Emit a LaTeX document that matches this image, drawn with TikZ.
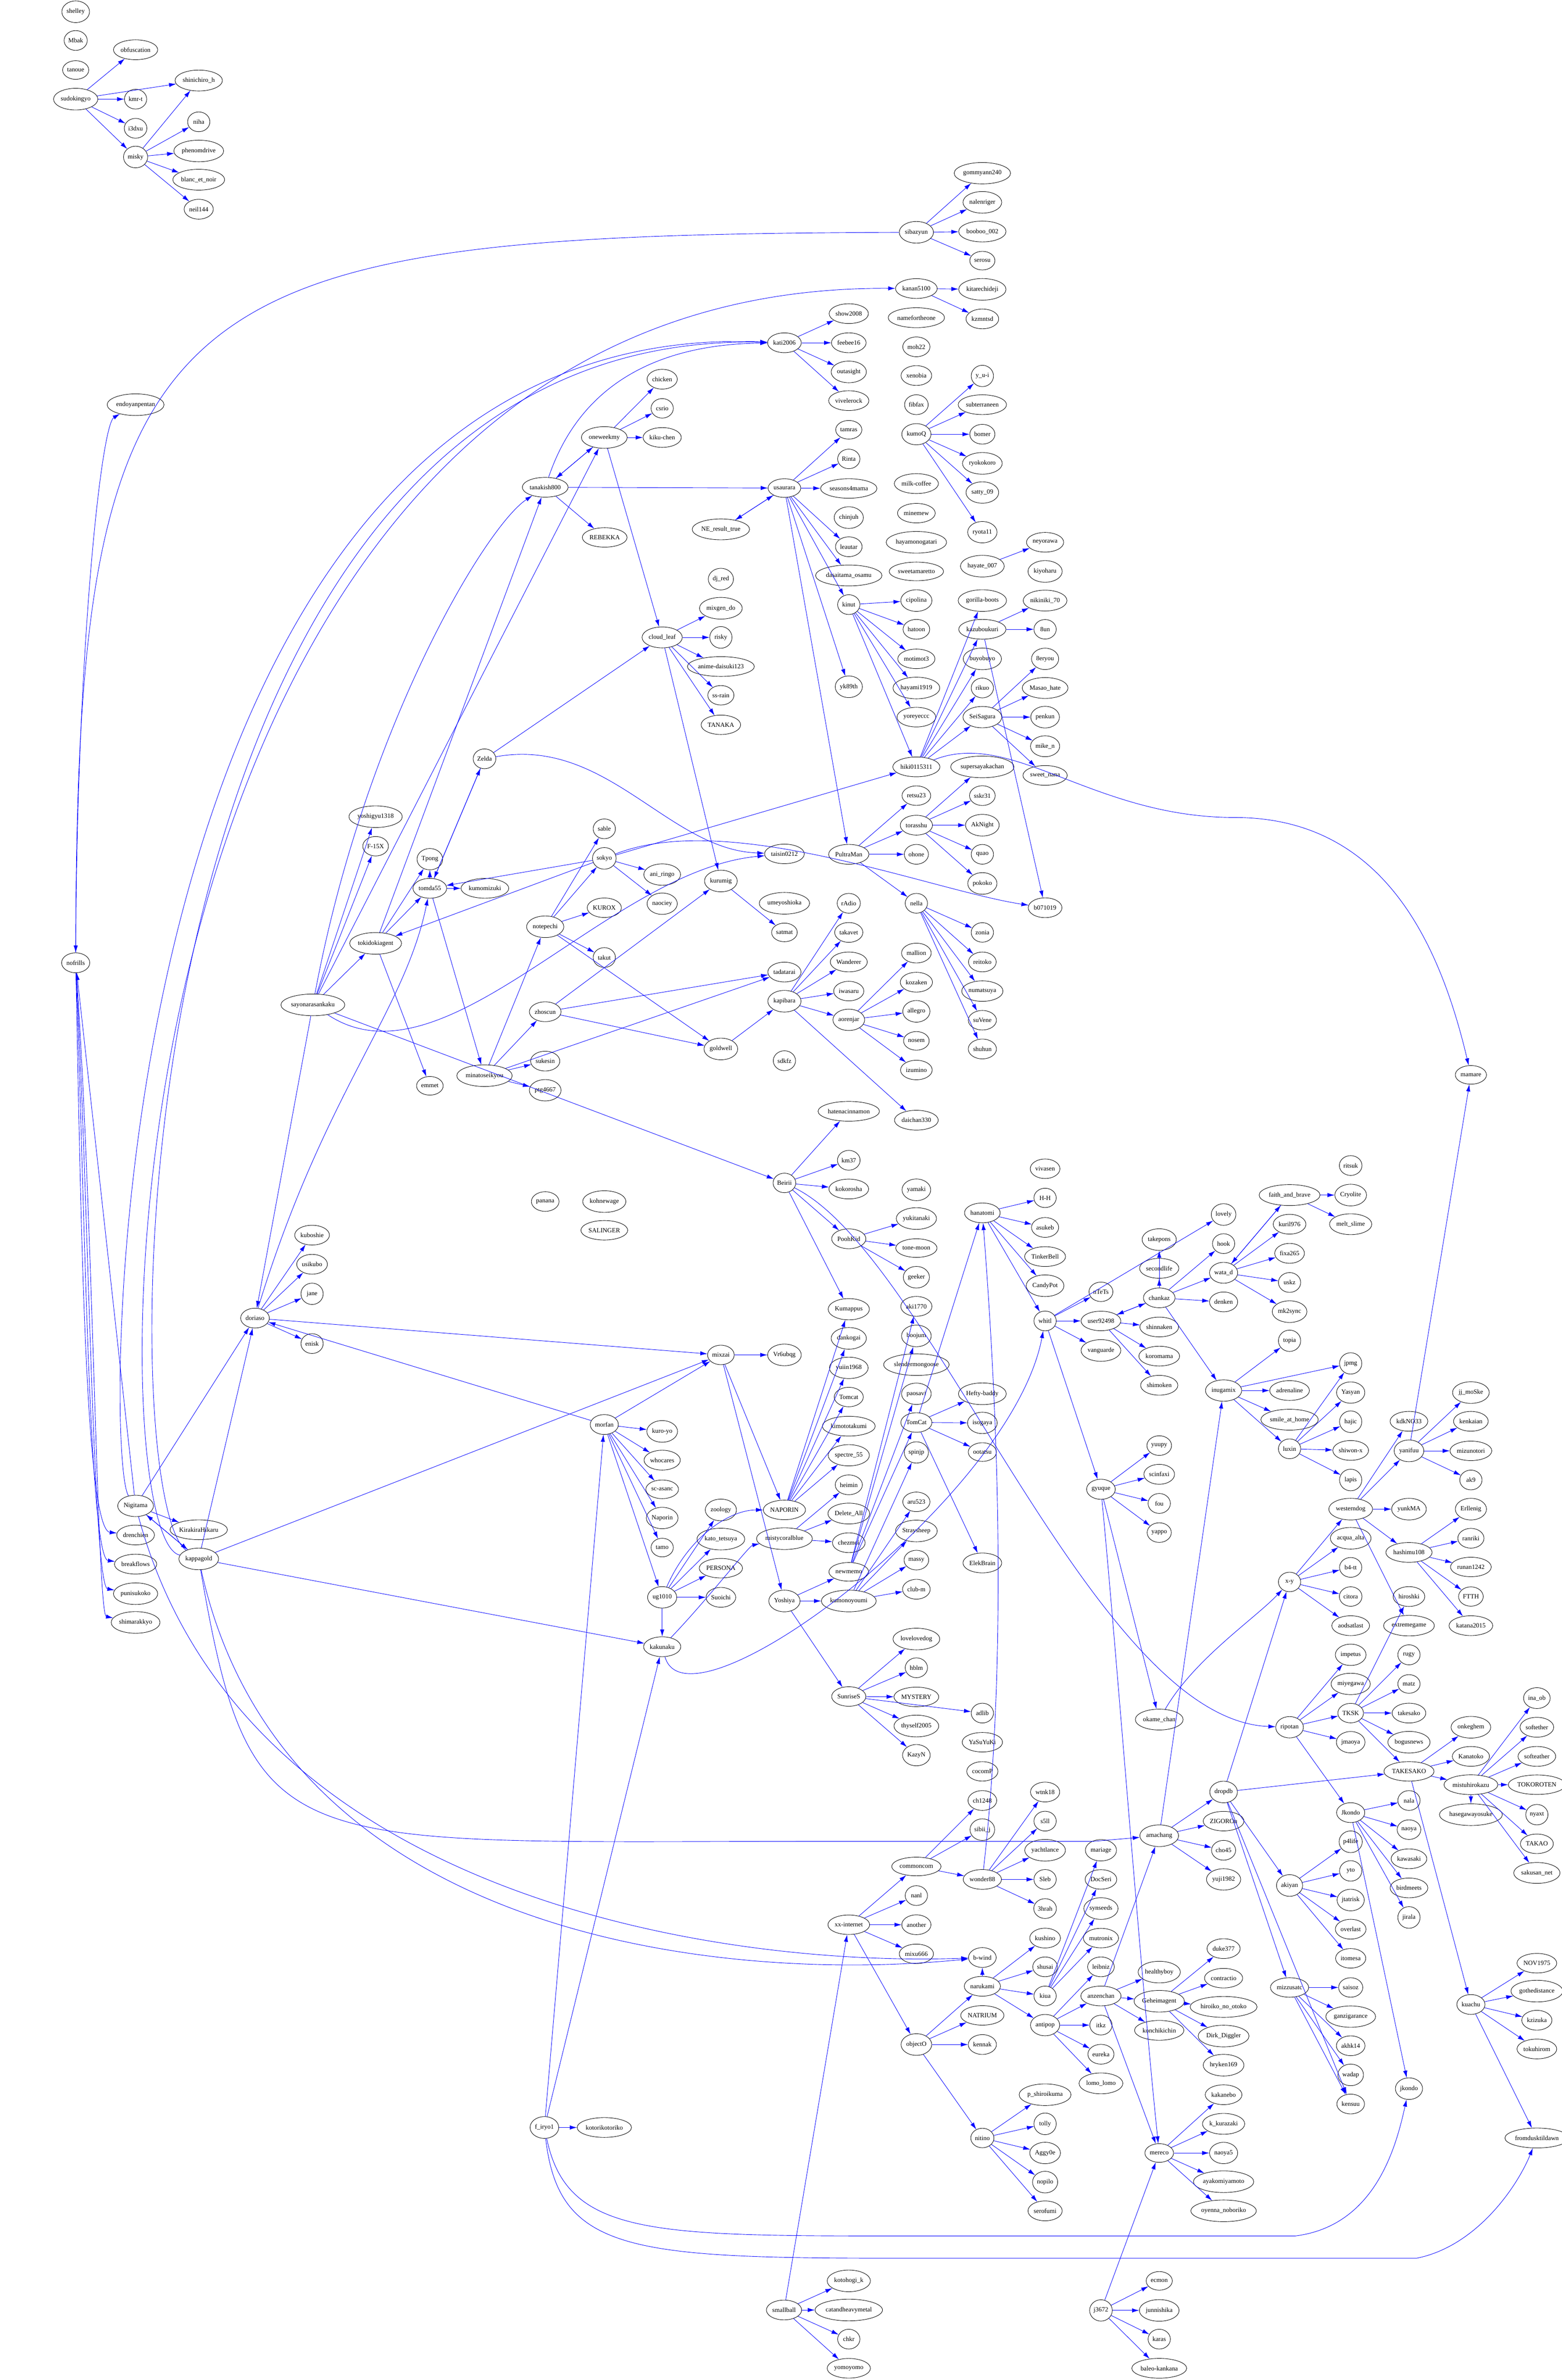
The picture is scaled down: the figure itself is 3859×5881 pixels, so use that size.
\documentclass[tikz,border=0pt]{standalone}
\usepackage{fontspec}
\setmainfont{Liberation Serif}
\usetikzlibrary{shapes.geometric,arrows.meta}
\newcommand\nd[4]{\node[u] (#1) at (#2,#3) {#4};}
\newcommand\myfan[2]{\foreach \t in {#2} {\draw[e] (#1) -- (\t);}}
\begin{document}
\begin{tikzpicture}[x=0.01cm,y=-0.01cm,
 u/.style={ellipse,draw,line width=0.3pt,minimum width=0.55cm,minimum height=0.46cm,inner xsep=0.5pt,font=\fontsize{4.5}{5}\selectfont},
 e/.style={blue,line width=0.3pt,-{Latex[length=5pt,width=3pt]}}]
\useasboundingbox (0,0) rectangle (3859,5881);
% column ~187-500
\nd{shelley}{187}{29}{shelley}
\nd{Mbak}{187}{100}{Mbak}
\nd{tanoue}{187}{173}{tanoue}
\nd{sudokingyo}{187}{245}{sudokingyo}
\nd{obfuscation}{335}{123}{obfuscation}
\nd{shinichiro}{491}{199}{shinichiro\_h}
\nd{kmrt}{335}{245}{kmr-t}
\nd{idxu}{335}{317}{i3dxu}
\nd{misky}{335}{388}{misky}
\nd{niha}{491}{301}{niha}
\nd{phenomdrive}{491}{373}{phenomdrive}
\nd{blanc}{491}{444}{blanc\_et\_noir}
\nd{neil}{491}{517}{neil144}
\nd{endoyan}{335}{1000}{endoyanpentan}
\nd{nofrills}{187}{2379}{nofrills}
\nd{Nigitama}{335}{3721}{Nigitama}
\nd{drenchien}{335}{3793}{drenchien}
\nd{breakflows}{335}{3865}{breakflows}
\nd{punisukoko}{335}{3938}{punisukoko}
\nd{shimarakkyo}{335}{4009}{shimarakkyo}
\nd{Kirakira}{491}{3780}{KirakiraHikaru}
\nd{kappagold}{491}{3852}{kappagold}
\nd{doriaso}{630}{3257}{doriaso}
\nd{kuboshie}{771}{3052}{kuboshie}
\nd{usikubo}{771}{3124}{usikubo}
\nd{jane}{771}{3197}{jane}
\nd{enisk}{771}{3320}{enisk}
\nd{sayonara}{773}{2483}{sayonarasankaku}
\nd{yoshigyu}{928}{2018}{yoshigyu1318}
\nd{Ffifteen}{928}{2091}{F-15X}
\nd{tokidoki}{928}{2331}{tokidokiagent}
\nd{Tpong}{1062}{2123}{Tpong}
\nd{tomda}{1062}{2195}{tomda55}
\nd{emmet}{1062}{2683}{emmet}
\nd{kumomizuki}{1198}{2195}{kumomizuki}
\nd{Zelda}{1197}{1875}{Zelda}
\nd{minato}{1197}{2658}{minatoseikyou}
\nd{tanakish}{1347}{1204}{tanakish800}
\nd{oneweekmy}{1493}{1081}{oneweekmy}
\nd{REBEKKA}{1494}{1328}{REBEKKA}
\nd{chicken}{1636}{937}{chicken}
\nd{csrio}{1636}{1009}{csrio}
\nd{kikuchen}{1636}{1081}{kiku-chen}
\nd{NEresult}{1781}{1308}{NE\_result\_true}
\nd{djred}{1781}{1431}{dj\_red}
\nd{cloudleaf}{1636}{1575}{cloud\_leaf}
\nd{mixgen}{1781}{1503}{mixgen\_do}
\nd{risky}{1781}{1575}{risky}
\nd{anime}{1781}{1647}{anime-daisuki123}
\nd{ssrain}{1781}{1718}{ss-rain}
\nd{TANAKA}{1781}{1791}{TANAKA}
\nd{sable}{1493}{2048}{sable}
\nd{sokyo}{1493}{2121}{sokyo}
\nd{aniringo}{1636}{2161}{ani\_ringo}
\nd{naociey}{1636}{2233}{naociey}
\nd{KUROX}{1493}{2243}{KUROX}
\nd{notepechi}{1347}{2290}{notepechi}
\nd{takut}{1493}{2366}{takut}
\nd{zhoscun}{1347}{2500}{zhoscun}
\nd{sukesin}{1347}{2622}{sukesin}
\nd{ptg}{1347}{2694}{ptg4667}
\nd{kurumig}{1781}{2177}{kurumig}
\nd{goldwell}{1781}{2592}{goldwell}
\nd{panana}{1347}{2969}{panana}
\nd{kohnewage}{1493}{2969}{kohnewage}
\nd{SALINGER}{1493}{3040}{SALINGER}
\nd{mixzai}{1781}{3348}{mixzai}
\nd{morfan}{1493}{3520}{morfan}
\nd{kuroyo}{1636}{3537}{kuro-yo}
\nd{whocares}{1636}{3608}{whocares}
\nd{scasanc}{1636}{3680}{sc-asanc}
\nd{Naporin}{1636}{3751}{Naporin}
\nd{tamo}{1636}{3824}{tamo}
\nd{ug}{1636}{3947}{ug1010}
\nd{zoology}{1781}{3731}{zoology}
\nd{kato}{1781}{3803}{kato\_tetsuya}
\nd{PERSONA}{1781}{3875}{PERSONA}
\nd{Suoichi}{1781}{3947}{Suoichi}
\nd{kakunaku}{1636}{4069}{kakunaku}
\nd{firyo}{1345}{5257}{f\_iryo1}
\nd{kotori}{1493}{5257}{kotorikotoriko}
\nd{smallball}{1937}{5708}{smallball}
\nd{kotohogi}{2097}{5636}{kotohogi\_k}
\nd{catand}{2097}{5708}{catandheavymetal}
\nd{chkr}{2097}{5780}{chkr}
\nd{yomoyomo}{2097}{5852}{yomoyomo}
% column 1938
\nd{kati}{1938}{847}{kati2006}
\nd{usaurara}{1938}{1206}{usaurara}
\nd{taisin}{1938}{2110}{taisin0212}
\nd{umeyoshioka}{1938}{2232}{umeyoshioka}
\nd{satmat}{1938}{2304}{satmat}
\nd{tadatarai}{1938}{2402}{tadatarai}
\nd{kapibara}{1938}{2474}{kapibara}
\nd{sdkfz}{1938}{2621}{sdkfz}
\nd{Beirii}{1938}{2923}{Beirii}
\nd{Vr}{1938}{3348}{Vr6ubqg}
\nd{NAPORIN}{1938}{3731}{NAPORIN}
\nd{misty}{1938}{3802}{mistycoralblue}
\nd{Yoshiya}{1938}{3956}{Yoshiya}
% column 2097
\nd{show}{2097}{775}{show2008}
\nd{feebee}{2097}{847}{feebee16}
\nd{outasight}{2097}{919}{outasight}
\nd{vivelerock}{2097}{990}{vivelerock}
\nd{tamras}{2097}{1062}{tamras}
\nd{Rinta}{2097}{1134}{Rinta}
\nd{seasons}{2097}{1207}{seasons4mama}
\nd{chinjuh}{2097}{1279}{chinjuh}
\nd{leautar}{2097}{1351}{leautar}
\nd{dasaitama}{2097}{1422}{dasaitama\_osamu}
\nd{kinut}{2097}{1494}{kinut}
\nd{yk}{2097}{1697}{yk89th}
\nd{PultraMan}{2097}{2111}{PultraMan}
\nd{rAdio}{2097}{2232}{rAdio}
\nd{takavet}{2097}{2304}{takavet}
\nd{Wanderer}{2097}{2377}{Wanderer}
\nd{iwasaru}{2097}{2449}{iwasaru}
\nd{aorenjar}{2097}{2520}{aorenjar}
\nd{hatena}{2097}{2746}{hatenacinnamon}
\nd{km}{2097}{2867}{km37}
\nd{kokorosha}{2097}{2938}{kokorosha}
\nd{PoohKid}{2097}{3061}{PoohKid}
\nd{Kumappus}{2097}{3235}{Kumappus}
\nd{dankogai}{2097}{3307}{dankogai}
\nd{yuiin}{2097}{3380}{yuiin1968}
\nd{Tomcat}{2097}{3452}{Tomcat}
\nd{kimoto}{2097}{3524}{kimototakumi}
\nd{spectre}{2097}{3596}{spectre\_55}
\nd{heimin}{2097}{3669}{heimin}
\nd{DeleteAll}{2097}{3740}{Delete\_All}
\nd{chezmoi}{2097}{3812}{chezmoi}
\nd{newmemo}{2097}{3884}{newmemo}
\nd{kumono}{2097}{3956}{kumonoyoumi}
\nd{SunriseS}{2097}{4192}{SunriseS}
\nd{xx}{2097}{4756}{xx-internet}
% column 2264
\nd{sibazyun}{2264}{574}{sibazyun}
\nd{kanan}{2264}{713}{kanan5100}
\nd{namefor}{2264}{785}{namefortheone}
\nd{moh}{2264}{857}{moh22}
\nd{xenobia}{2264}{928}{xenobia}
\nd{fibfax}{2264}{1000}{fibfax}
\nd{kumoQ}{2264}{1073}{kumoQ}
\nd{milk}{2264}{1195}{milk-coffee}
\nd{minemew}{2264}{1268}{minemew}
\nd{hayamono}{2264}{1340}{hayamonogatari}
\nd{sweetam}{2264}{1412}{sweetamaretto}
\nd{cipolina}{2264}{1484}{cipolina}
\nd{hatoon}{2264}{1555}{hatoon}
\nd{motimot}{2264}{1628}{motimot3}
\nd{hayami}{2264}{1700}{hayami1919}
\nd{yoreye}{2264}{1772}{yoreyeccc}
\nd{hiki}{2264}{1895}{hiki0115311}
\nd{retsu}{2264}{1966}{retsu23}
\nd{torasshu}{2264}{2039}{torasshu}
\nd{ohone}{2264}{2111}{ohone}
\nd{nella}{2264}{2232}{nella}
\nd{mallion}{2264}{2355}{mallion}
\nd{kozaken}{2264}{2427}{kozaken}
\nd{allegro}{2264}{2499}{allegro}
\nd{nosem}{2264}{2572}{nosem}
\nd{izumino}{2264}{2644}{izumino}
\nd{daichan}{2264}{2768}{daichan330}
\nd{yamaki}{2264}{2940}{yamaki}
\nd{yukitanaki}{2264}{3011}{yukitanaki}
\nd{tonemoon}{2264}{3084}{tone-moon}
\nd{geeker}{2264}{3156}{geeker}
\nd{aki}{2264}{3228}{aki1770}
\nd{boojum}{2264}{3301}{boojum}
\nd{slender}{2264}{3372}{slendermongoose}
\nd{paosavi}{2264}{3444}{paosavi}
\nd{TomCat}{2264}{3515}{TomCat}
\nd{spinjp}{2264}{3589}{spinjp}
\nd{aru}{2264}{3711}{aru523}
\nd{Straysheep}{2264}{3783}{Straysheep}
\nd{massy}{2264}{3855}{massy}
\nd{clubm}{2264}{3927}{club-m}
\nd{lovelove}{2264}{4050}{lovelovedog}
\nd{hblm}{2264}{4121}{hblm}
\nd{MYSTERY}{2264}{4193}{MYSTERY}
\nd{thyself}{2264}{4265}{thyself2005}
\nd{KazyN}{2264}{4337}{KazyN}
\nd{commoncom}{2264}{4612}{commoncom}
\nd{nanl}{2264}{4684}{nanl}
\nd{another}{2264}{4756}{another}
\nd{mixu}{2264}{4828}{mixu666}
\nd{objectO}{2264}{5052}{objectO}
% column 2427
\nd{gommyann}{2427}{428}{gommyann240}
\nd{nalenriger}{2427}{500}{nalenriger}
\nd{booboo}{2427}{572}{booboo\_002}
\nd{serosu}{2427}{644}{serosu}
\nd{kitare}{2427}{715}{kitarechideji}
\nd{kzmntsd}{2427}{788}{kzmntsd}
\nd{yui}{2427}{929}{y\_u-i}
\nd{subterr}{2427}{1000}{subterraneen}
\nd{bomer}{2427}{1073}{bomer}
\nd{ryokokoro}{2427}{1145}{ryokokoro}
\nd{satty}{2427}{1217}{satty\_09}
\nd{ryota}{2427}{1315}{ryota11}
\nd{hayate}{2427}{1399}{hayate\_007}
\nd{gorilla}{2427}{1484}{gorilla-boots}
\nd{kazubou}{2427}{1555}{kazuboukuri}
\nd{buyobuyo}{2427}{1628}{buyobuyo}
\nd{rikuo}{2427}{1700}{rikuo}
\nd{SeiSagura}{2427}{1772}{SeiSagura}
\nd{supersaya}{2427}{1895}{supersayakachan}
\nd{sskr}{2427}{1966}{sskr31}
\nd{AkNight}{2427}{2039}{AkNight}
\nd{quao}{2427}{2111}{quao}
\nd{pokoko}{2427}{2183}{pokoko}
\nd{zonia}{2427}{2304}{zonia}
\nd{reitoko}{2427}{2377}{reitoko}
\nd{numatsuya}{2427}{2449}{numatsuya}
\nd{suVene}{2427}{2521}{suVene}
\nd{shuhun}{2427}{2592}{shuhun}
\nd{hanatomi}{2427}{2997}{hanatomi}
\nd{Hefty}{2427}{3444}{Hefty-baddy}
\nd{isogaya}{2427}{3516}{isogaya}
\nd{ootatsu}{2427}{3588}{ootatsu}
\nd{ElekBrain}{2427}{3862}{ElekBrain}
\nd{adlib}{2427}{4233}{adlib}
\nd{YaSuYuKi}{2427}{4305}{YaSuYuKi}
\nd{cocomP}{2427}{4377}{cocomP}
\nd{ch}{2427}{4449}{ch1248}
\nd{sibii}{2427}{4521}{sibii\_j}
\nd{wonder}{2427}{4644}{wonder88}
\nd{bwind}{2427}{4837}{b-wind}
\nd{narukami}{2427}{4908}{narukami}
\nd{NATRIUM}{2427}{4980}{NATRIUM}
\nd{kennak}{2427}{5052}{kennak}
\nd{nitino}{2427}{5283}{nitino}
% column 2582
\nd{neyorawa}{2582}{1340}{neyorawa}
\nd{kiyoharu}{2582}{1412}{kiyoharu}
\nd{nikiniki}{2582}{1484}{nikiniki\_70}
\nd{eightun}{2582}{1555}{8un}
\nd{eightryou}{2582}{1628}{8eryou}
\nd{Masao}{2582}{1700}{Masao\_hate}
\nd{penkun}{2582}{1772}{penkun}
\nd{mike}{2582}{1844}{mike\_n}
\nd{sweetnana}{2582}{1916}{sweet\_nana}
\nd{bzero}{2582}{2243}{b071019}
\nd{vivasen}{2582}{2888}{vivasen}
\nd{HH}{2582}{2960}{H-H}
\nd{asukeb}{2582}{3033}{asukeb}
\nd{Tinker}{2582}{3105}{TinkerBell}
\nd{CandyPot}{2582}{3177}{CandyPot}
\nd{whitl}{2582}{3264}{whitl}
\nd{wtnk}{2582}{4428}{wtnk18}
\nd{sfll}{2582}{4500}{s5ll}
\nd{yacht}{2582}{4572}{yachtlance}
\nd{Sleb}{2582}{4644}{Sleb}
\nd{hrah}{2582}{4716}{3hrah}
\nd{kushino}{2582}{4789}{kushino}
\nd{shusai}{2582}{4860}{shusai}
\nd{kiua}{2582}{4932}{kiua}
\nd{antipop}{2582}{5004}{antipop}
\nd{pshiro}{2582}{5176}{p\_shiroikuma}
\nd{tolly}{2582}{5248}{tolly}
\nd{Aggy}{2582}{5320}{Aggy0e}
\nd{nopilo}{2582}{5392}{nopilo}
\nd{serofumi}{2582}{5463}{serofumi}
% column 2720
\nd{nTeTs}{2720}{3192}{nTeTs}
\nd{user}{2720}{3264}{user92498}
\nd{vanguarde}{2720}{3337}{vanguarde}
\nd{gyuque}{2720}{3680}{gyuque}
\nd{mariage}{2720}{4572}{mariage}
\nd{DocSeri}{2720}{4644}{DocSeri}
\nd{synseeds}{2720}{4716}{synseeds}
\nd{mutronix}{2720}{4789}{mutronix}
\nd{leibniz}{2720}{4860}{leibniz}
\nd{anzen}{2720}{4932}{anzenchan}
\nd{itkz}{2720}{5004}{itkz}
\nd{eureka}{2720}{5076}{eureka}
\nd{lomo}{2720}{5148}{lomo\_lomo}
\nd{jthree}{2720}{5709}{j3672}
% column 2864
\nd{takepons}{2864}{3063}{takepons}
\nd{secondlife}{2864}{3134}{secondlife}
\nd{chankaz}{2864}{3207}{chankaz}
\nd{shinnaken}{2864}{3279}{shinnaken}
\nd{koromama}{2864}{3351}{koromama}
\nd{shimoken}{2864}{3423}{shimoken}
\nd{yuupy}{2864}{3572}{yuupy}
\nd{scinfaxi}{2864}{3643}{scinfaxi}
\nd{fou}{2864}{3715}{fou}
\nd{yappo}{2864}{3787}{yappo}
\nd{okame}{2864}{4249}{okame\_chan}
\nd{amachang}{2864}{4536}{amachang}
\nd{healthy}{2864}{4873}{healthyboy}
\nd{Geheim}{2864}{4945}{Geheimagent}
\nd{konchi}{2864}{5017}{konchikichin}
\nd{mereco}{2864}{5320}{mereco}
\nd{ecmon}{2864}{5636}{ecmon}
\nd{junnishika}{2864}{5709}{junnishika}
\nd{karas}{2864}{5780}{karas}
\nd{baleo}{2864}{5852}{baleo-kankana}
% column 3023
\nd{lovely}{3023}{3001}{lovely}
\nd{hook}{3023}{3073}{hook}
\nd{wata}{3023}{3145}{wata\_d}
\nd{denken}{3023}{3217}{denken}
\nd{inugamix}{3023}{3436}{inugamix}
\nd{dropdb}{3023}{4428}{dropdb}
\nd{ZIGOROu}{3023}{4500}{ZIGOROu}
\nd{cho}{3023}{4572}{cho45}
\nd{yuji}{3023}{4644}{yuji1982}
\nd{duke}{3023}{4815}{duke377}
\nd{contractio}{3023}{4888}{contractio}
\nd{hiroiko}{3023}{4959}{hiroiko\_no\_otoko}
\nd{Dirk}{3023}{5031}{Dirk\_Diggler}
\nd{hryken}{3023}{5103}{hryken169}
\nd{kakanebo}{3023}{5176}{kakanebo}
\nd{kkura}{3023}{5248}{k\_kurazaki}
\nd{naoyafive}{3023}{5320}{naoya5}
\nd{ayako}{3023}{5391}{ayakomiyamoto}
\nd{oyenna}{3023}{5463}{oyenna\_noboriko}
% column 3186
\nd{faith}{3186}{2953}{faith\_and\_brave}
\nd{kuril}{3186}{3025}{kuril976}
\nd{fixa}{3186}{3097}{fixa265}
\nd{uskz}{3186}{3169}{uskz}
\nd{mktwo}{3186}{3241}{mk2sync}
\nd{topia}{3186}{3313}{topia}
\nd{adrenaline}{3186}{3436}{adrenaline}
\nd{smile}{3186}{3508}{smile\_at\_home}
\nd{luxin}{3186}{3580}{luxin}
\nd{xy}{3186}{3909}{x-y}
\nd{ripotan}{3186}{4268}{ripotan}
\nd{akiyan}{3186}{4659}{akiyan}
\nd{mizzu}{3186}{4911}{mizzusatc}
% column 3337
\nd{ritsuk}{3337}{2880}{ritsuk}
\nd{Cryolite}{3337}{2953}{Cryolite}
\nd{melt}{3337}{3025}{melt\_slime}
\nd{jpmg}{3337}{3369}{jpmg}
\nd{Yasyan}{3337}{3441}{Yasyan}
\nd{hajic}{3337}{3513}{hajic}
\nd{shiwon}{3337}{3584}{shiwon-x}
\nd{lapis}{3337}{3657}{lapis}
\nd{westerndog}{3337}{3729}{westerndog}
\nd{acqua}{3337}{3801}{acqua\_alta}
\nd{bfour}{3337}{3873}{b4-tt}
\nd{citora}{3337}{3945}{citora}
\nd{aodsat}{3337}{4017}{aodsatlast}
\nd{impetus}{3337}{4089}{impetus}
\nd{miyegawa}{3337}{4161}{miyegawa}
\nd{TKSK}{3337}{4233}{TKSK}
\nd{jmaoya}{3337}{4305}{jmaoya}
\nd{Jkondo}{3337}{4479}{Jkondo}
\nd{pfour}{3337}{4551}{p4life}
\nd{yto}{3337}{4623}{yto}
\nd{jtat}{3337}{4695}{jtatrisk}
\nd{overlast}{3337}{4767}{overlast}
\nd{itomesa}{3337}{4839}{itomesa}
\nd{saisoz}{3337}{4911}{saisoz}
\nd{ganzi}{3337}{4983}{ganzigarance}
\nd{akhk}{3337}{5055}{akhk14}
\nd{wadap}{3337}{5127}{wadap}
\nd{kensuu}{3337}{5199}{kensuu}
% column 3481
\nd{kdk}{3481}{3512}{kdkNO33}
\nd{yanifuu}{3481}{3585}{yanifuu}
\nd{yunkMA}{3481}{3729}{yunkMA}
\nd{hashimu}{3481}{3836}{hashimu108}
\nd{hiroshki}{3481}{3945}{hiroshki}
\nd{extreme}{3481}{4017}{extremegame}
\nd{rugy}{3481}{4089}{rugy}
\nd{matz}{3481}{4161}{matz}
\nd{takesako}{3481}{4233}{takesako}
\nd{bogus}{3481}{4305}{bogusnews}
\nd{TAKESAKO}{3481}{4377}{TAKESAKO}
\nd{nala}{3481}{4449}{nala}
\nd{naoya}{3481}{4521}{naoya}
\nd{kawasaki}{3481}{4593}{kawasaki}
\nd{birdmeets}{3481}{4665}{birdmeets}
\nd{jirala}{3481}{4738}{jirala}
\nd{jkondo}{3481}{5161}{jkondo}
% column 3634
\nd{mamare}{3634}{2656}{mamare}
\nd{jjmo}{3634}{3441}{jj\_moSke}
\nd{kenkaian}{3634}{3512}{kenkaian}
\nd{mizuno}{3634}{3585}{mizunotori}
\nd{aknine}{3634}{3657}{ak9}
\nd{Erllenig}{3634}{3729}{Erllenig}
\nd{ranriki}{3634}{3801}{ranriki}
\nd{runan}{3634}{3872}{runan1242}
\nd{FTTH}{3634}{3945}{FTTH}
\nd{katana}{3634}{4017}{katana2015}
\nd{onke}{3634}{4268}{onkeghem}
\nd{Kanatoko}{3634}{4340}{Kanatoko}
\nd{mistu}{3634}{4410}{mistuhirokazu}
\nd{hasegawa}{3634}{4484}{hasegawayosuke}
\nd{kuachu}{3634}{4953}{kuachu}
% column 3797
\nd{inaob}{3797}{4196}{ina\_ob}
\nd{softether}{3797}{4268}{softether}
\nd{softeather}{3797}{4340}{softeather}
\nd{TOKOROTEN}{3797}{4410}{TOKOROTEN}
\nd{nyaxt}{3797}{4484}{nyaxt}
\nd{TAKAO}{3797}{4556}{TAKAO}
\nd{sakusan}{3797}{4628}{sakusan\_net}
\nd{NOV}{3797}{4851}{NOV1975}
\nd{gothe}{3797}{4920}{gothedistance}
\nd{kzizuka}{3797}{4992}{kzizuka}
\nd{tokuhirom}{3797}{5063}{tokuhirom}
\nd{fromdusk}{3797}{5283}{fromdusktildawn}
% ---------- fans
\myfan{sudokingyo}{obfuscation,shinichiro,kmrt,idxu,misky}
\myfan{misky}{shinichiro,niha,phenomdrive,blanc,neil}
\myfan{sibazyun}{gommyann,nalenriger,booboo,serosu}
\myfan{kanan}{kitare,kzmntsd}
\myfan{kati}{show,feebee,outasight,vivelerock}
\myfan{kumoQ}{yui,subterr,bomer,ryokokoro,satty,ryota}
\myfan{usaurara}{tamras,Rinta,seasons,leautar,dasaitama,kinut,yk,PultraMan,NEresult}
\myfan{oneweekmy}{chicken,csrio,kikuchen,tanakish,cloudleaf}
\myfan{tanakish}{REBEKKA,oneweekmy,usaurara}
\myfan{hayate}{neyorawa}
\myfan{cloudleaf}{mixgen,risky,anime,ssrain,TANAKA,kurumig}
\myfan{kinut}{cipolina,hatoon,motimot,hayami,yoreye,hiki}
\myfan{kazubou}{nikiniki,eightun,bzero}
\myfan{SeiSagura}{eightryou,Masao,penkun,mike,sweetnana}
\myfan{hiki}{gorilla,kazubou,buyobuyo,rikuo,SeiSagura}
\myfan{torasshu}{supersaya,sskr,AkNight,quao,pokoko}
\myfan{PultraMan}{retsu,torasshu,ohone,nella}
\myfan{nella}{zonia,reitoko,numatsuya,suVene,shuhun}
\myfan{kapibara}{rAdio,takavet,Wanderer,iwasaru,aorenjar,daichan}
\myfan{aorenjar}{mallion,kozaken,allegro,nosem,izumino}
\myfan{Beirii}{hatena,km,kokorosha,PoohKid,Kumappus}
\myfan{PoohKid}{yukitanaki,tonemoon,geeker}
\myfan{Zelda}{tomda,cloudleaf}
\myfan{tomda}{Tpong,kumomizuki,minato,Zelda}
\myfan{sokyo}{tomda,aniringo,naociey,tokidoki,hiki}
\myfan{notepechi}{sokyo,KUROX,takut,sable,goldwell}
\myfan{tokidoki}{Tpong,tomda,emmet,tanakish}
\myfan{sayonara}{yoshigyu,Ffifteen,tokidoki,doriaso,oneweekmy,Beirii}
\myfan{minato}{zhoscun,sukesin,ptg,notepechi,tadatarai}
\myfan{zhoscun}{tadatarai,goldwell,kurumig}
\myfan{goldwell}{kapibara}
\myfan{kurumig}{satmat}
\myfan{doriaso}{kuboshie,usikubo,jane,enisk,mixzai}
\myfan{morfan}{kuroyo,whocares,scasanc,Naporin,tamo,mixzai,ug,doriaso}
\myfan{ug}{zoology,kato,PERSONA,Suoichi,kakunaku}
\myfan{mixzai}{Vr,NAPORIN,Yoshiya}
\myfan{Nigitama}{Kirakira,kappagold,doriaso,nofrills}
\myfan{kappagold}{doriaso,kakunaku,mixzai,Nigitama}
\myfan{NAPORIN}{Kumappus,dankogai,yuiin,Tomcat,kimoto,spectre}
\myfan{misty}{heimin,DeleteAll,chezmoi}
\myfan{Yoshiya}{newmemo,kumono,SunriseS}
\myfan{kumono}{clubm,massy,Straysheep,aru,spinjp}
\myfan{newmemo}{TomCat,paosavi,boojum,aki}
\myfan{SunriseS}{lovelove,hblm,MYSTERY,thyself,KazyN,adlib}
\myfan{TomCat}{Hefty,isogaya,ootatsu,ElekBrain,hanatomi}
\myfan{hanatomi}{HH,asukeb,Tinker,CandyPot,whitl}
\myfan{whitl}{nTeTs,user,vanguarde,gyuque,lovely}
\myfan{user}{shinnaken,koromama,shimoken,chankaz}
\myfan{chankaz}{takepons,secondlife,user,hook,wata,denken,inugamix}
\myfan{wata}{faith,kuril,fixa,uskz,mktwo}
\myfan{faith}{Cryolite,melt,wata}
\myfan{inugamix}{topia,jpmg,adrenaline,smile,luxin}
\myfan{luxin}{jpmg,Yasyan,hajic,shiwon,lapis}
\myfan{gyuque}{yuupy,scinfaxi,fou,yappo,okame}
\myfan{westerndog}{kdk,yanifuu,yunkMA,hashimu,extreme}
\myfan{yanifuu}{jjmo,kenkaian,mizuno,aknine,mamare}
\myfan{hashimu}{Erllenig,ranriki,runan,FTTH,katana}
\myfan{xy}{westerndog,acqua,bfour,citora,aodsat}
\myfan{ripotan}{impetus,miyegawa,TKSK,jmaoya,Jkondo}
\myfan{TKSK}{hiroshki,rugy,matz,takesako,bogus,TAKESAKO}
\myfan{TAKESAKO}{onke,Kanatoko,mistu,kuachu}
\myfan{mistu}{inaob,softether,softeather,TOKOROTEN,nyaxt,TAKAO,sakusan,hasegawa}
\myfan{commoncom}{ch,sibii,wonder}
\myfan{xx}{commoncom,nanl,another,mixu,objectO}
\myfan{wonder}{wtnk,sfll,yacht,Sleb,hrah}
\myfan{narukami}{kushino,shusai,kiua,antipop,bwind}
\myfan{objectO}{narukami,NATRIUM,kennak,nitino}
\myfan{antipop}{anzen,itkz,eureka,lomo,leibniz}
\myfan{kiua}{mariage,DocSeri,synseeds,mutronix}
\myfan{anzen}{healthy,Geheim,konchi,mereco,amachang}
\myfan{Geheim}{duke,contractio,hiroiko,Dirk,hryken}
\myfan{amachang}{dropdb,ZIGOROu,cho,yuji,inugamix}
\myfan{mereco}{kakanebo,kkura,naoyafive,ayako,oyenna}
\myfan{nitino}{pshiro,tolly,Aggy,nopilo,serofumi}
\myfan{jthree}{ecmon,junnishika,karas,baleo,mereco}
\myfan{smallball}{kotohogi,catand,chkr,yomoyomo,xx}
\myfan{firyo}{kotori,morfan,kakunaku}
\myfan{dropdb}{akiyan,mizzu,TAKESAKO,xy,kensuu}
\myfan{Jkondo}{nala,naoya,kawasaki,birdmeets,jirala,jkondo}
\myfan{akiyan}{pfour,yto,jtat,overlast,itomesa}
\myfan{mizzu}{saisoz,ganzi,akhk,wadap,kensuu}
\myfan{kuachu}{NOV,gothe,kzizuka,tokuhirom,fromdusk}
\myfan{NEresult}{usaurara}
% nofrills left-side bundle
\draw[e] (nofrills) .. controls (190,1600) and (250,1050) .. (endoyan);
\draw[e] (nofrills) .. controls (200,3000) and (210,3780) .. (drenchien);
\draw[e] (nofrills) .. controls (210,3000) and (220,3850) .. (breakflows);
\draw[e] (nofrills) .. controls (220,3000) and (230,3920) .. (punisukoko);
\draw[e] (nofrills) .. controls (230,3000) and (240,3990) .. (shimarakkyo);
% ---------- long curved connections
\draw[e] (sibazyun) .. controls (400,580) and (190,700) .. (nofrills);
\draw[e] (kappagold) .. controls (230,3800) and (230,700) .. (kanan);
\draw[e] (Nigitama) .. controls (250,3600) and (250,780) .. (kati);
\draw[e] (kappagold) .. controls (270,3700) and (270,810) .. (kati);
\draw[e] (tanakish) .. controls (1450,900) and (1700,850) .. (kati);
\draw[e] (sayonara) .. controls (900,1800) and (1200,1300) .. (tanakish);
\draw[e] (Zelda) .. controls (1500,1820) and (1650,2100) .. (taisin);
\draw[e] (sayonara) .. controls (1100,2700) and (1500,2150) .. (taisin);
\draw[e] (hiki) .. controls (2500,1800) and (2700,2020) .. (3050,2020) .. controls (3400,2020) and (3550,2300) .. (mamare);
\draw[e] (kakunaku) .. controls (1700,4300) and (2500,3700) .. (whitl);
\draw[e] (doriaso) .. controls (800,2700) and (1000,2500) .. (tomda);
\draw[e] (kappagold) .. controls (700,4800) and (1800,4900) .. (bwind);
\draw[e] (Nigitama) .. controls (600,4700) and (1800,4860) .. (bwind);
\draw[e] (firyo) .. controls (1400,5520) and (1600,5525) .. (2200,5525) -- (3200,5525) .. controls (3400,5500) and (3450,5300) .. (jkondo);
\draw[e] (firyo) .. controls (1380,5560) and (1550,5580) .. (2200,5580) -- (3500,5580) .. controls (3650,5550) and (3750,5400) .. (fromdusk);
\draw[e] (kappagold) .. controls (620,4600) and (700,4550) .. (2000,4550) -- (2700,4550) -- (amachang);
\draw[e] (ug) .. controls (1700,3800) and (1800,3731) .. (NAPORIN);
\draw[e] (kakunaku) .. controls (1750,3950) and (1850,3820) .. (misty);
\draw[e] (gyuque) .. controls (2760,4100) and (2820,4900) .. (mereco);
\draw[e] (okame) .. controls (2950,4100) and (3100,4000) .. (xy);
\draw[e] (wonder) .. controls (2500,4000) and (2450,3300) .. (hanatomi);
\draw[e] (Beirii) .. controls (2300,3100) and (2700,4250) .. (ripotan);
\draw[e] (sokyo) .. controls (1800,2000) and (2300,2200) .. (bzero);
\end{tikzpicture}
\end{document}
